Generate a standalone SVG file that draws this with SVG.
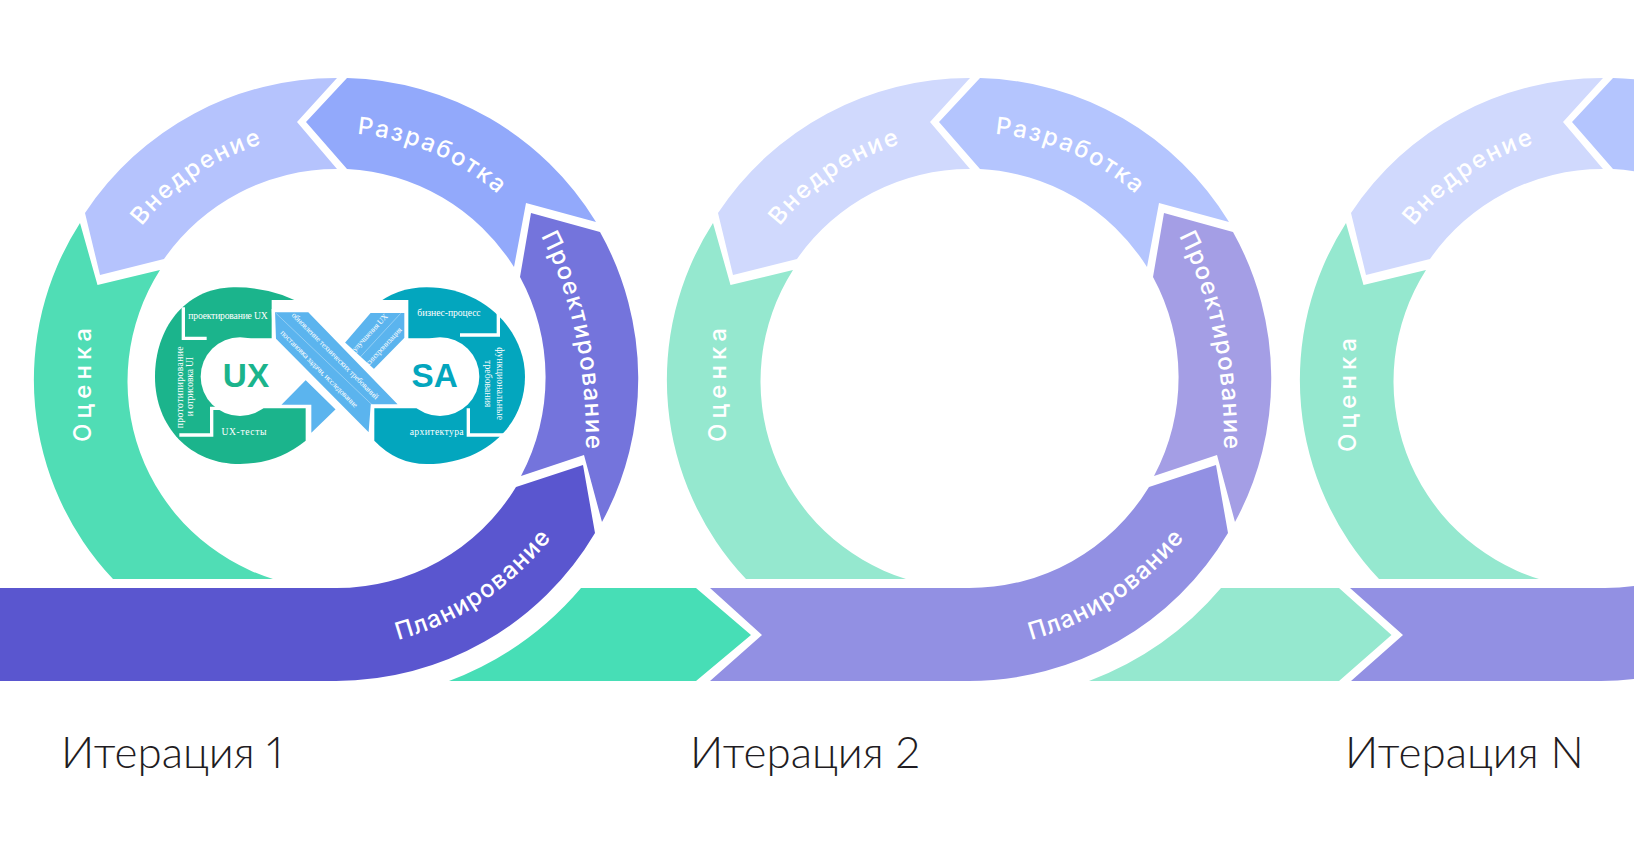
<svg xmlns="http://www.w3.org/2000/svg" width="1634" height="858" viewBox="0 0 1634 858">
<style>
.t{font-family:"Inter","Noto Sans",sans-serif;font-size:24px;fill:#fff;font-weight:500;letter-spacing:2px;text-anchor:middle}
.o{letter-spacing:5px}
.pp{letter-spacing:1.5px}
.pl{letter-spacing:1.2px}
.s{font-family:"Liberation Serif",serif;font-size:29px;fill:#fff;text-anchor:middle}
.d{font-size:24px}
.big{font-family:"Liberation Sans",sans-serif;font-weight:700;font-size:100px;text-anchor:middle}
.it{font-family:"Lato","Noto Sans",sans-serif;font-size:44px;font-weight:300;fill:#1f1c22;font-variant-numeric:proportional-nums}
.wl{fill:none;stroke:#fff;stroke-width:10}
.tl{fill:none;stroke:#fff;stroke-opacity:.7;stroke-width:1.5}
.bl{fill:#5bb4ee}
.a1{fill:#b5c3fd}.b1{fill:#92a9fb}.c1{fill:#7474dc}.d1{fill:#5a56cf}.e1{fill:#50ddb5}.f1{fill:#47deb6}
.a2{fill:#d0d9fd}.b2{fill:#b4c5fe}.c2{fill:#a49ee5}.d2{fill:#9290e3}.e2{fill:#95e8cf}
</style>
<defs>
<path id="pVn" d="M88,380A247,247 0 0 1 335,133"/>
<path id="pRa" d="M335,133A247,247 0 0 1 582,380"/>
<path id="pPr" d="M539,232Q588,325 586,455"/>
<path id="pPl" d="M398,640Q490,615 552,537"/>
<path id="pOc" d="M93,445L93,320"/>
</defs>
<g id="ring-1">
<g id="r1-vnedrenie"><path class="a1" d="M85,213A301,301 0 0 1 337,78L297,122L337,169A210,210 0 0 0 164,259L100,275Z"/><text class="t"><textPath href="#pVn" startOffset="62%">Внедрение</textPath></text></g>
<g id="r1-razrabotka"><path class="b1" d="M347,78A301,301 0 0 1 596,222L526,203L514,267A210,210 0 0 0 347,169L306,122Z"/><text class="t"><textPath href="#pRa" startOffset="26%">Разработка</textPath></text></g>
<g id="r1-proekt"><path class="c1" d="M531,213L600,232A301,301 0 0 1 602,522L584,455L521,476A210,210 0 0 0 520,277Z"/><text class="t pp"><textPath href="#pPr" startOffset="50%">Проектирование</textPath></text></g>
<g id="r1-plan"><path class="d1" d="M0,588L335,588A210,210 0 0 0 516,487L583,465L595,533A301,301 0 0 1 335,681L0,681Z"/><text class="t pl"><textPath href="#pPl" startOffset="50%">Планирование</textPath></text></g>
<g id="r1-ocenka"><path class="e1" d="M80,223L97.5,285L160,270A207,207 0 0 0 273,579L113,579A290,290 0 0 1 80,223Z"/><text class="t o" transform="translate(-2,0)"><textPath href="#pOc" startOffset="50%">Оценка</textPath></text></g>
<path id="r1-out" class="f1" d="M449,681A322,322 0 0 0 581,588L696,588L751,635L696,681Z"/>
</g>
<g id="ring-2">
<g transform="translate(633,0)">
<g id="r2-vnedrenie"><path class="a2" d="M85,213A301,301 0 0 1 337,78L297,122L337,169A210,210 0 0 0 164,259L100,275Z"/><text class="t" transform="translate(5,0)"><textPath href="#pVn" startOffset="62%">Внедрение</textPath></text></g>
<g id="r2-razrabotka"><path class="b2" d="M347,78A301,301 0 0 1 596,222L526,203L514,267A210,210 0 0 0 347,169L306,122Z"/><text class="t" transform="translate(5,0)"><textPath href="#pRa" startOffset="26%">Разработка</textPath></text></g>
<g id="r2-proekt"><path class="c2" d="M531,213L600,232A301,301 0 0 1 602,522L584,455L521,476A210,210 0 0 0 520,277Z"/><text class="t pp" transform="translate(5,0)"><textPath href="#pPr" startOffset="50%">Проектирование</textPath></text></g>
<g id="r2-plan"><path class="d2" d="M77,588L335,588A210,210 0 0 0 516,487L583,465L595,533A301,301 0 0 1 335,681L77,681L129,635Z"/><text class="t pl"><textPath href="#pPl" startOffset="50%">Планирование</textPath></text></g>
<g id="r2-ocenka"><path class="e2" d="M80,223L97.5,285L160,270A207,207 0 0 0 273,579L113,579A290,290 0 0 1 80,223Z"/><text class="t o"><textPath href="#pOc" startOffset="50%">Оценка</textPath></text></g>
</g>
<path id="r2-out" class="e2" d="M1089,681A322,322 0 0 0 1221,588L1339,588L1391.5,635L1339,681Z"/>
</g>
<g id="ring-3">
<g transform="translate(1266,0)">
<g id="r3-vnedrenie"><path class="a2" d="M85,213A301,301 0 0 1 337,78L297,122L337,169A210,210 0 0 0 164,259L100,275Z"/><text class="t" transform="translate(6,0)"><textPath href="#pVn" startOffset="62%">Внедрение</textPath></text></g>
<path id="r3-razrabotka" class="b2" d="M347,78A301,301 0 0 1 596,222L526,203L514,267A210,210 0 0 0 347,169L306,122Z"/>
<g id="r3-ocenka"><path class="e2" d="M80,223L97.5,285L160,270A207,207 0 0 0 273,579L113,579A290,290 0 0 1 80,223Z"/><text class="t o" transform="translate(-3,10)"><textPath href="#pOc" startOffset="50%">Оценка</textPath></text></g>
</g>
<path id="r3-plan" class="d2" d="M1350,588L1601,588A210,210 0 0 0 1634,586L1634,679A301,301 0 0 1 1601,681L1351,681L1403,635Z"/>
</g>
<g id="devops" transform="translate(140,270) scale(.33333)">
<path fill="#1bb48c" d="M497,108Q400,50 280,52C130,55 45,180 45,320C45,470 150,582 300,582Q410,582 497,512Z"/>
<path fill="#03a6be" d="M703,108Q770,52 860,52C1030,52 1155,180 1155,320C1155,470 1030,582 860,582Q770,582 703,512Z"/>
<path fill="#fff" d="M395,90H520V415H300V205H395Z"/>
<path fill="#fff" d="M805,90H680V415H900V205H805Z"/>
<circle cx="300" cy="320" r="118" fill="#fff"/>
<circle cx="900" cy="320" r="118" fill="#fff"/>
<path class="wl" d="M130,112V205H200M118,495H215V415H300M1075,112V195H960M985,415V495H1092"/>
<path class="bl" d="M610,218L690,125H797V205L702,302Z" stroke="#fff" stroke-width="8"/>
<path class="bl" d="M415,408L497,325L592,418L510,498V408Z" stroke="#fff" stroke-width="8"/>
<path class="bl" d="M400,122H507L785,408H697L690,498L403,208Z" stroke="#fff" stroke-width="10"/>
<path class="tl" d="M408,130L700,408M660,262L782,130"/>
<text class="s" textLength="238" x="264" y="146">проектирование UX</text>
<text class="s" textLength="135" x="312" y="494">UX-тесты</text>
<text class="s" textLength="190" x="927" y="139">бизнес-процесс</text>
<text class="s" textLength="162" x="890" y="496">архитектура</text>
<text class="s" textLength="245" transform="translate(130,352) rotate(-90)">прототипирование</text>
<text class="s" textLength="178" transform="translate(160,350) rotate(-90)">и отрисовка UI</text>
<text class="s" textLength="218" transform="translate(1070,341) rotate(90)">функциональные</text>
<text class="s" textLength="142" transform="translate(1036,341) rotate(90)">требования</text>
<text class="s d" textLength="358" transform="translate(580,263) rotate(45)">обновление технических требований</text>
<text class="s d" textLength="317" transform="translate(532,302) rotate(45)">постановка задачи, исследование</text>
<text class="s d" textLength="145" transform="translate(695,193) rotate(-47)">улучшения UX</text>
<text class="s d" textLength="146" transform="translate(737,234) rotate(-47)">синхронизация</text>
<text class="big" x="318" y="352" fill="#1bb48c">UX</text>
<text class="big" x="884" y="352" fill="#03a6be">SA</text>
</g>
<g id="labels">
<text class="it" x="61" y="768">Итерация 1</text>
<text class="it" x="690" y="768">Итерация 2</text>
<text class="it" x="1345" y="768">Итерация N</text>
</g>
</svg>
